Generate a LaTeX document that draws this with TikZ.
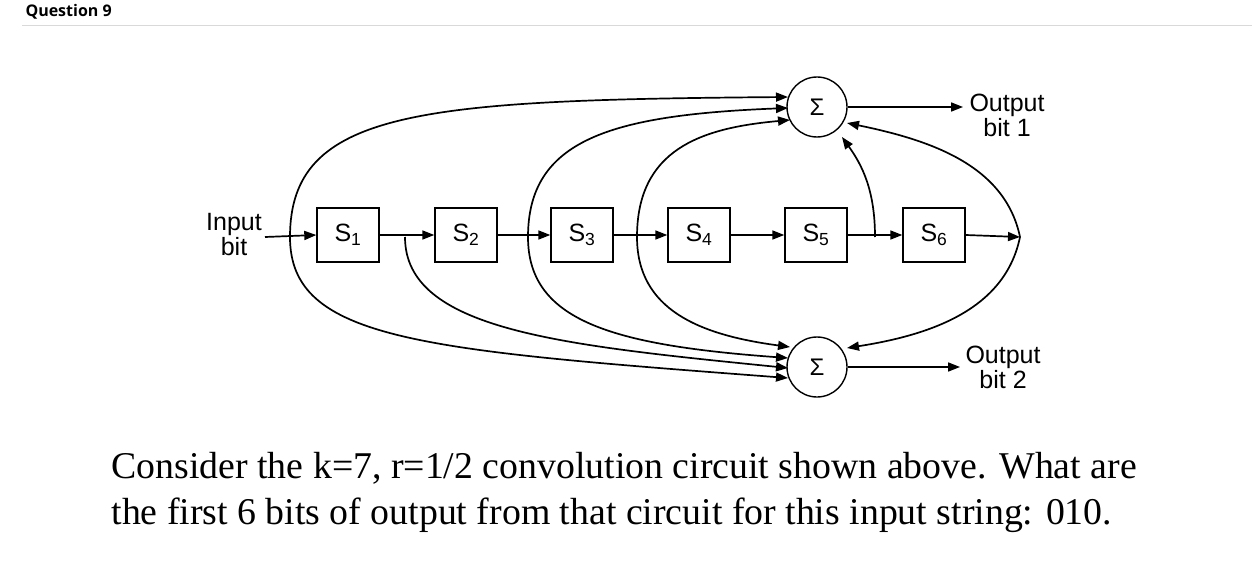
\documentclass[tikz,border=0pt]{standalone}
\usepackage{fontspec}
\setmainfont{Liberation Serif}
\setsansfont{Liberation Sans}
\newfontfamily\headfont{Open Sans}
\usetikzlibrary{arrows.meta}
\begin{document}
\begin{tikzpicture}[x=1pt,y=-1pt,
  reg/.style={draw,line width=1.4pt,minimum width=62pt,minimum height=54pt,font=\sffamily\fontsize{25}{26}\selectfont,inner sep=0pt},
  sum/.style={draw,circle,line width=1.4pt,minimum size=60pt,inner sep=0pt,font=\sffamily\fontsize{24}{26}\selectfont},
  wire/.style={line width=1.7pt,-{Triangle[length=12pt,width=9pt]}},
  lab/.style={font=\sffamily\fontsize{25}{25}\selectfont,align=center}]
\useasboundingbox (0,0) rectangle (1252,564);
\node[anchor=west,font=\headfont\bfseries\fontsize{16}{18}\selectfont] (q) at (22,12) {Question 9};
\draw[black!15,line width=0.8pt] (22,25) -- (1252,25);
\foreach \i/\x in {1/348,2/466,3/582,4/699,5/816,6/934}{
  \node[reg] (s\i) at (\x,235) {S\textsubscript{\i}};
}
\node[sum] (t) at (817,107) {Σ};
\node[sum] (b) at (817,367) {Σ};
\node[lab,anchor=west] (o1) at (966,115) {Output\\bit 1};
\node[lab,anchor=west] (o2) at (962,367) {Output\\bit 2};
\node[lab] (in) at (234,235) {Input\\bit};
\coordinate (c0) at (290,237);
\coordinate (c1) at (405,237);
\coordinate (c2) at (528,237);
\coordinate (c3) at (637,237);
\coordinate (c5) at (875,237);
\coordinate (c6) at (1020,237);
\draw[wire] (265,237) -- (s1.west);
\draw[wire] (s1.east) -- (s2.west);
\draw[wire] (s2.east) -- (s3.west);
\draw[wire] (s3.east) -- (s4.west);
\draw[wire] (s4.east) -- (s5.west);
\draw[wire] (s5.east) -- (s6.west);
\draw[wire] (s6.east) -- (c6);
\draw[wire] (t.east) -- (963,107);
\draw[wire] (b.east) -- (960,367);
% top taps
\draw[wire] (c0) .. controls (290,110) and (420,100) .. (788,97);
\draw[wire] (c2) .. controls (528,140) and (610,115) .. (788,108);
\draw[wire] (c3) .. controls (637,150) and (700,128) .. (790,120);
\draw[wire] (c5) .. controls (875,190) and (862,165) .. (842,137);
\draw[wire] (c6) .. controls (1005,165) and (930,140) .. (847,123);
% bottom taps
\draw[wire] (c0) .. controls (290,340) and (420,350) .. (788,378);
\draw[wire] (c1) .. controls (405,330) and (560,345) .. (788,368);
\draw[wire] (c2) .. controls (528,320) and (610,345) .. (788,358);
\draw[wire] (c3) .. controls (637,310) and (700,335) .. (790,347);
\draw[wire] (c6) .. controls (1005,310) and (930,335) .. (847,348);
\node[anchor=west,font=\fontsize{37.8}{46}\selectfont,align=left] (txt) at (108,492)
 {Consider the k=7, r=1/2 convolution circuit shown above. What are\\the first 6 bits of output from that circuit for this input string: 010.};
\end{tikzpicture}
\end{document}
